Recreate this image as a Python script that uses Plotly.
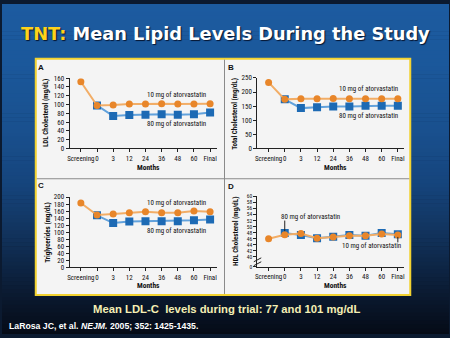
import plotly.graph_objects as go

W, H = 450, 338

# ---------------- data ----------------
cats = ["Screening", "0", "3", "12", "24", "36", "48", "60", "Final"]
ldl_10 = [152, 98, 99, 101, 101, 102, 101, 101, 102]
ldl_80 = [None, 98, 74, 76, 77, 78, 77, 78, 82]
tc_10 = [234, 174, 176, 176, 177, 176, 176, 176, 176]
tc_80 = [None, 174, 143, 146, 149, 149, 151, 151, 151]
tg_10 = [183, 149, 152, 155, 158, 155, 155, 160, 158]
tg_80 = [None, 148, 126, 130, 131, 131, 131, 134, 136]
hdl_10 = [46.0, 47.3, 47.7, 46.2, 46.6, 47.0, 47.0, 47.6, 47.2]
hdl_80 = [None, 47.9, 47.2, 46.2, 46.7, 47.2, 47.0, 47.9, 47.5]

ldl_ticks = [0, 20, 40, 60, 80, 100, 120, 140, 160]
tc_ticks = [0, 50, 100, 150, 200, 250]
tg_ticks = list(range(0, 201, 20))
hdl_ticks = list(range(40, 61, 2))

# ---------------- helpers ----------------
def px(x):
    return x / W

def py(y):
    return 1 - y / H

NARROW = "Liberation Sans Narrow, Roboto Condensed, Liberation Sans, Arial"
SANS = "Liberation Sans, Arial"
ORANGE_M = "#e8862a"
ORANGE_L = "#f2ad66"
BLUE_M = "#1d6ab4"
BLUE_L = "#62a2dc"

fig = go.Figure()

# ---------------- background gradient ----------------
stops = [(0, (0x1c, 0x5b, 0xa0)), (60, (0x1b, 0x58, 0x9b)), (130, (0x19, 0x50, 0x8e)),
         (185, (0x15, 0x44, 0x7c)), (230, (0x12, 0x35, 0x60)), (265, (0x0e, 0x27, 0x48)),
         (300, (0x0a, 0x19, 0x2f)), (338, (0x05, 0x0b, 0x16))]

def col_at(y):
    for (y0, c0), (y1, c1) in zip(stops[:-1], stops[1:]):
        if y0 <= y <= y1:
            t = (y - y0) / (y1 - y0)
            c = [round(a + (b - a) * t) for a, b in zip(c0, c1)]
            return "rgb(%d,%d,%d)" % tuple(c)
    return "rgb(5,11,22)"

shapes = []
step = 4
for y in range(0, H, step):
    shapes.append(dict(type="rect", xref="paper", yref="paper", x0=0, x1=1,
                       y0=py(min(y + step + 0.5, H)), y1=py(y), fillcolor=col_at(y + step / 2),
                       line=dict(width=0), layer="below"))

# panel box
shapes.append(dict(type="rect", xref="paper", yref="paper", x0=px(34), x1=px(411),
                   y0=py(298), y1=py(56), fillcolor="#f4f4f4",
                   line=dict(color="#f2d230", width=2), layer="below"))
shapes.append(dict(type="line", xref="paper", yref="paper", x0=px(224), x1=px(224),
                   y0=py(297), y1=py(57), line=dict(color="#8a8a8a", width=1), layer="below"))
shapes.append(dict(type="line", xref="paper", yref="paper", x0=px(35), x1=px(410),
                   y0=py(179), y1=py(179), line=dict(color="#8a8a8a", width=1), layer="below"))

# ---------------- axes ----------------
panels = [
    # xaxis name, yaxis name, x px domain, y px domain, yrange, ticks, y10, y80, ytitle, title x
    ("x", "y", (68, 216), (76, 148), (0, 160), ldl_ticks, ldl_10, ldl_80, "LDL Cholesterol (mg/dL)", 45),
    ("x2", "y2", (257, 405), (75.7, 148), (0, 250), tc_ticks, tc_10, tc_80, "Total Cholesterol (mg/dL)", 235),
    ("x3", "y3", (68, 216), (197.7, 269.7), (0, 200), tg_ticks, tg_10, tg_80, "Triglycerides (mg/dL)", 46),
    ("x4", "y4", (257, 405), (197, 269), (36.8, 60), None, hdl_10, hdl_80, "HDL Cholesterol (mg/dL)", 236),
]

layout_axes = {}
annotations = []
for i, (xa, ya, xd, yd, yr, ticks, y10, y80, ytitle, tx) in enumerate(panels):
    xkey = "xaxis" if xa == "x" else "xaxis" + xa[1:]
    ykey = "yaxis" if ya == "y" else "yaxis" + ya[1:]
    layout_axes[xkey] = dict(
        domain=[px(xd[0]), px(xd[1])], anchor=ya, type="category",
        categoryorder="array", categoryarray=cats, range=[-0.7, 8.4],
        showgrid=False, zeroline=False, showline=True, linecolor="#222", linewidth=1,
        ticks="outside", ticklen=3, tickwidth=1, tickcolor="#222",
        tickfont=dict(family=NARROW, size=7, color="#111"), tickangle=0,
        fixedrange=True,
    )
    if ticks is not None:
        tv, tt = ticks, [str(t) for t in ticks]
        tsize = 7
    else:
        tv = [yr[0]] + hdl_ticks
        tt = ["0"] + [str(t) for t in hdl_ticks]
        tsize = 5.5
    layout_axes[ykey] = dict(
        domain=[py(yd[1]), py(yd[0])], anchor=xa, range=list(yr),
        showgrid=False, zeroline=False, showline=True, linecolor="#222", linewidth=1,
        ticks="outside", ticklen=3, tickwidth=1, tickcolor="#222",
        tickvals=tv, ticktext=tt,
        tickfont=dict(family=NARROW, size=tsize, color="#111"), fixedrange=True,
    )
    fig.add_trace(go.Scatter(x=cats, y=y80, xaxis=xa, yaxis=ya, mode="lines+markers",
                             line=dict(color=BLUE_L, width=2),
                             marker=dict(symbol="square", size=8, color=BLUE_M),
                             showlegend=False, hoverinfo="skip"))
    fig.add_trace(go.Scatter(x=cats, y=y10, xaxis=xa, yaxis=ya, mode="lines+markers",
                             line=dict(color=ORANGE_L, width=2),
                             marker=dict(symbol="circle", size=7, color=ORANGE_M),
                             showlegend=False, hoverinfo="skip"))
    # axis title
    annotations.append(dict(xref="paper", yref="paper", x=px(tx), y=py((yd[0] + yd[1]) / 2),
                            text="<b>%s</b>" % ytitle, textangle=-90, showarrow=False,
                            font=dict(family=NARROW, size=7, color="#111"),
                            xanchor="center", yanchor="middle"))
    # Months
    annotations.append(dict(xref="paper", yref="paper", x=px((xd[0] + xd[1]) / 2 + 5),
                            y=py(yd[1] + 19), text="<b>Months</b>", showarrow=False,
                            font=dict(family=NARROW, size=7.5, color="#111"),
                            xanchor="center", yanchor="middle"))

# panel letters
for letter, (lx, ly) in zip("ABCD", [(39, 65), (231, 65), (39, 186), (231, 187)]):
    annotations.append(dict(xref="paper", yref="paper", x=px(lx), y=py(ly), text="<b>%s</b>" % letter,
                            showarrow=False, font=dict(family=SANS, size=8, color="#111"),
                            xanchor="center", yanchor="middle"))

# series labels
labels = [
    ("10 mg of atorvastatin", 175.5, 93), ("80 mg of atorvastatin", 175.5, 123),
    ("10 mg of atorvastatin", 369, 87), ("80 mg of atorvastatin", 369, 115),
    ("10 mg of atorvastatin", 175.5, 204), ("80 mg of atorvastatin", 175.5, 232),
    ("80 mg of atorvastatin", 311, 218), ("10 mg of atorvastatin", 372, 248),
]
for txt, lx, ly in labels:
    annotations.append(dict(xref="paper", yref="paper", x=px(lx), y=py(ly), text=txt,
                            showarrow=False, font=dict(family=NARROW, size=7, color="#111"),
                            xanchor="center", yanchor="middle"))

# leader lines in panel D
i0 = cats.index("0")
iF = cats.index("Final")
shapes.append(dict(type="line", xref="x4", yref="y4", x0=i0, x1=i0, y0=hdl_80[i0] + 0.6, y1=52.0,
                   line=dict(color="#222", width=1)))
shapes.append(dict(type="line", xref="x4", yref="y4", x0=iF, x1=iF, y0=hdl_10[iF] - 0.6, y1=44.8,
                   line=dict(color="#222", width=1)))
# axis break marks
for yb in (262, 266):
    shapes.append(dict(type="line", xref="paper", yref="paper", x0=px(253.5), x1=px(261),
                       y0=py(yb + 2), y1=py(yb - 2), line=dict(color="#222", width=1)))

# title and footer
annotations.append(dict(xref="paper", yref="paper", x=0.5, y=py(30),
                        text="<b><span style='color:#ffd21a'>TNT:</span> Mean Lipid Levels During the Study</b>",
                        showarrow=False, xanchor="center", yanchor="middle",
                        font=dict(family="DejaVu Sans", size=17.8, color="#ffffff",
                                  shadow="1px 1px 1px #061530")))
annotations.append(dict(xref="paper", yref="paper", x=px(227), y=py(312),
                        text="<b>Mean LDL-C\u00a0 levels during trial: 77 and 101 mg/dL</b>",
                        showarrow=False, xanchor="center", yanchor="middle",
                        font=dict(family=SANS, size=11.3, color="#f4efb4")))
annotations.append(dict(xref="paper", yref="paper", x=px(5), y=py(329.5),
                        text="<b>LaRosa JC, et al. <i>NEJM.</i> 2005; 352: 1425-1435.</b>",
                        showarrow=False, xanchor="left", yanchor="middle",
                        font=dict(family=SANS, size=8.7, color="#ffffff")))

fig.update_layout(
    width=W, height=H, margin=dict(l=0, r=0, t=0, b=0),
    paper_bgcolor="#0b1a30", plot_bgcolor="rgba(0,0,0,0)",
    showlegend=False, shapes=shapes, annotations=annotations,
    **layout_axes,
)

fig.write_html("out.html", config={"displayModeBar": False})
